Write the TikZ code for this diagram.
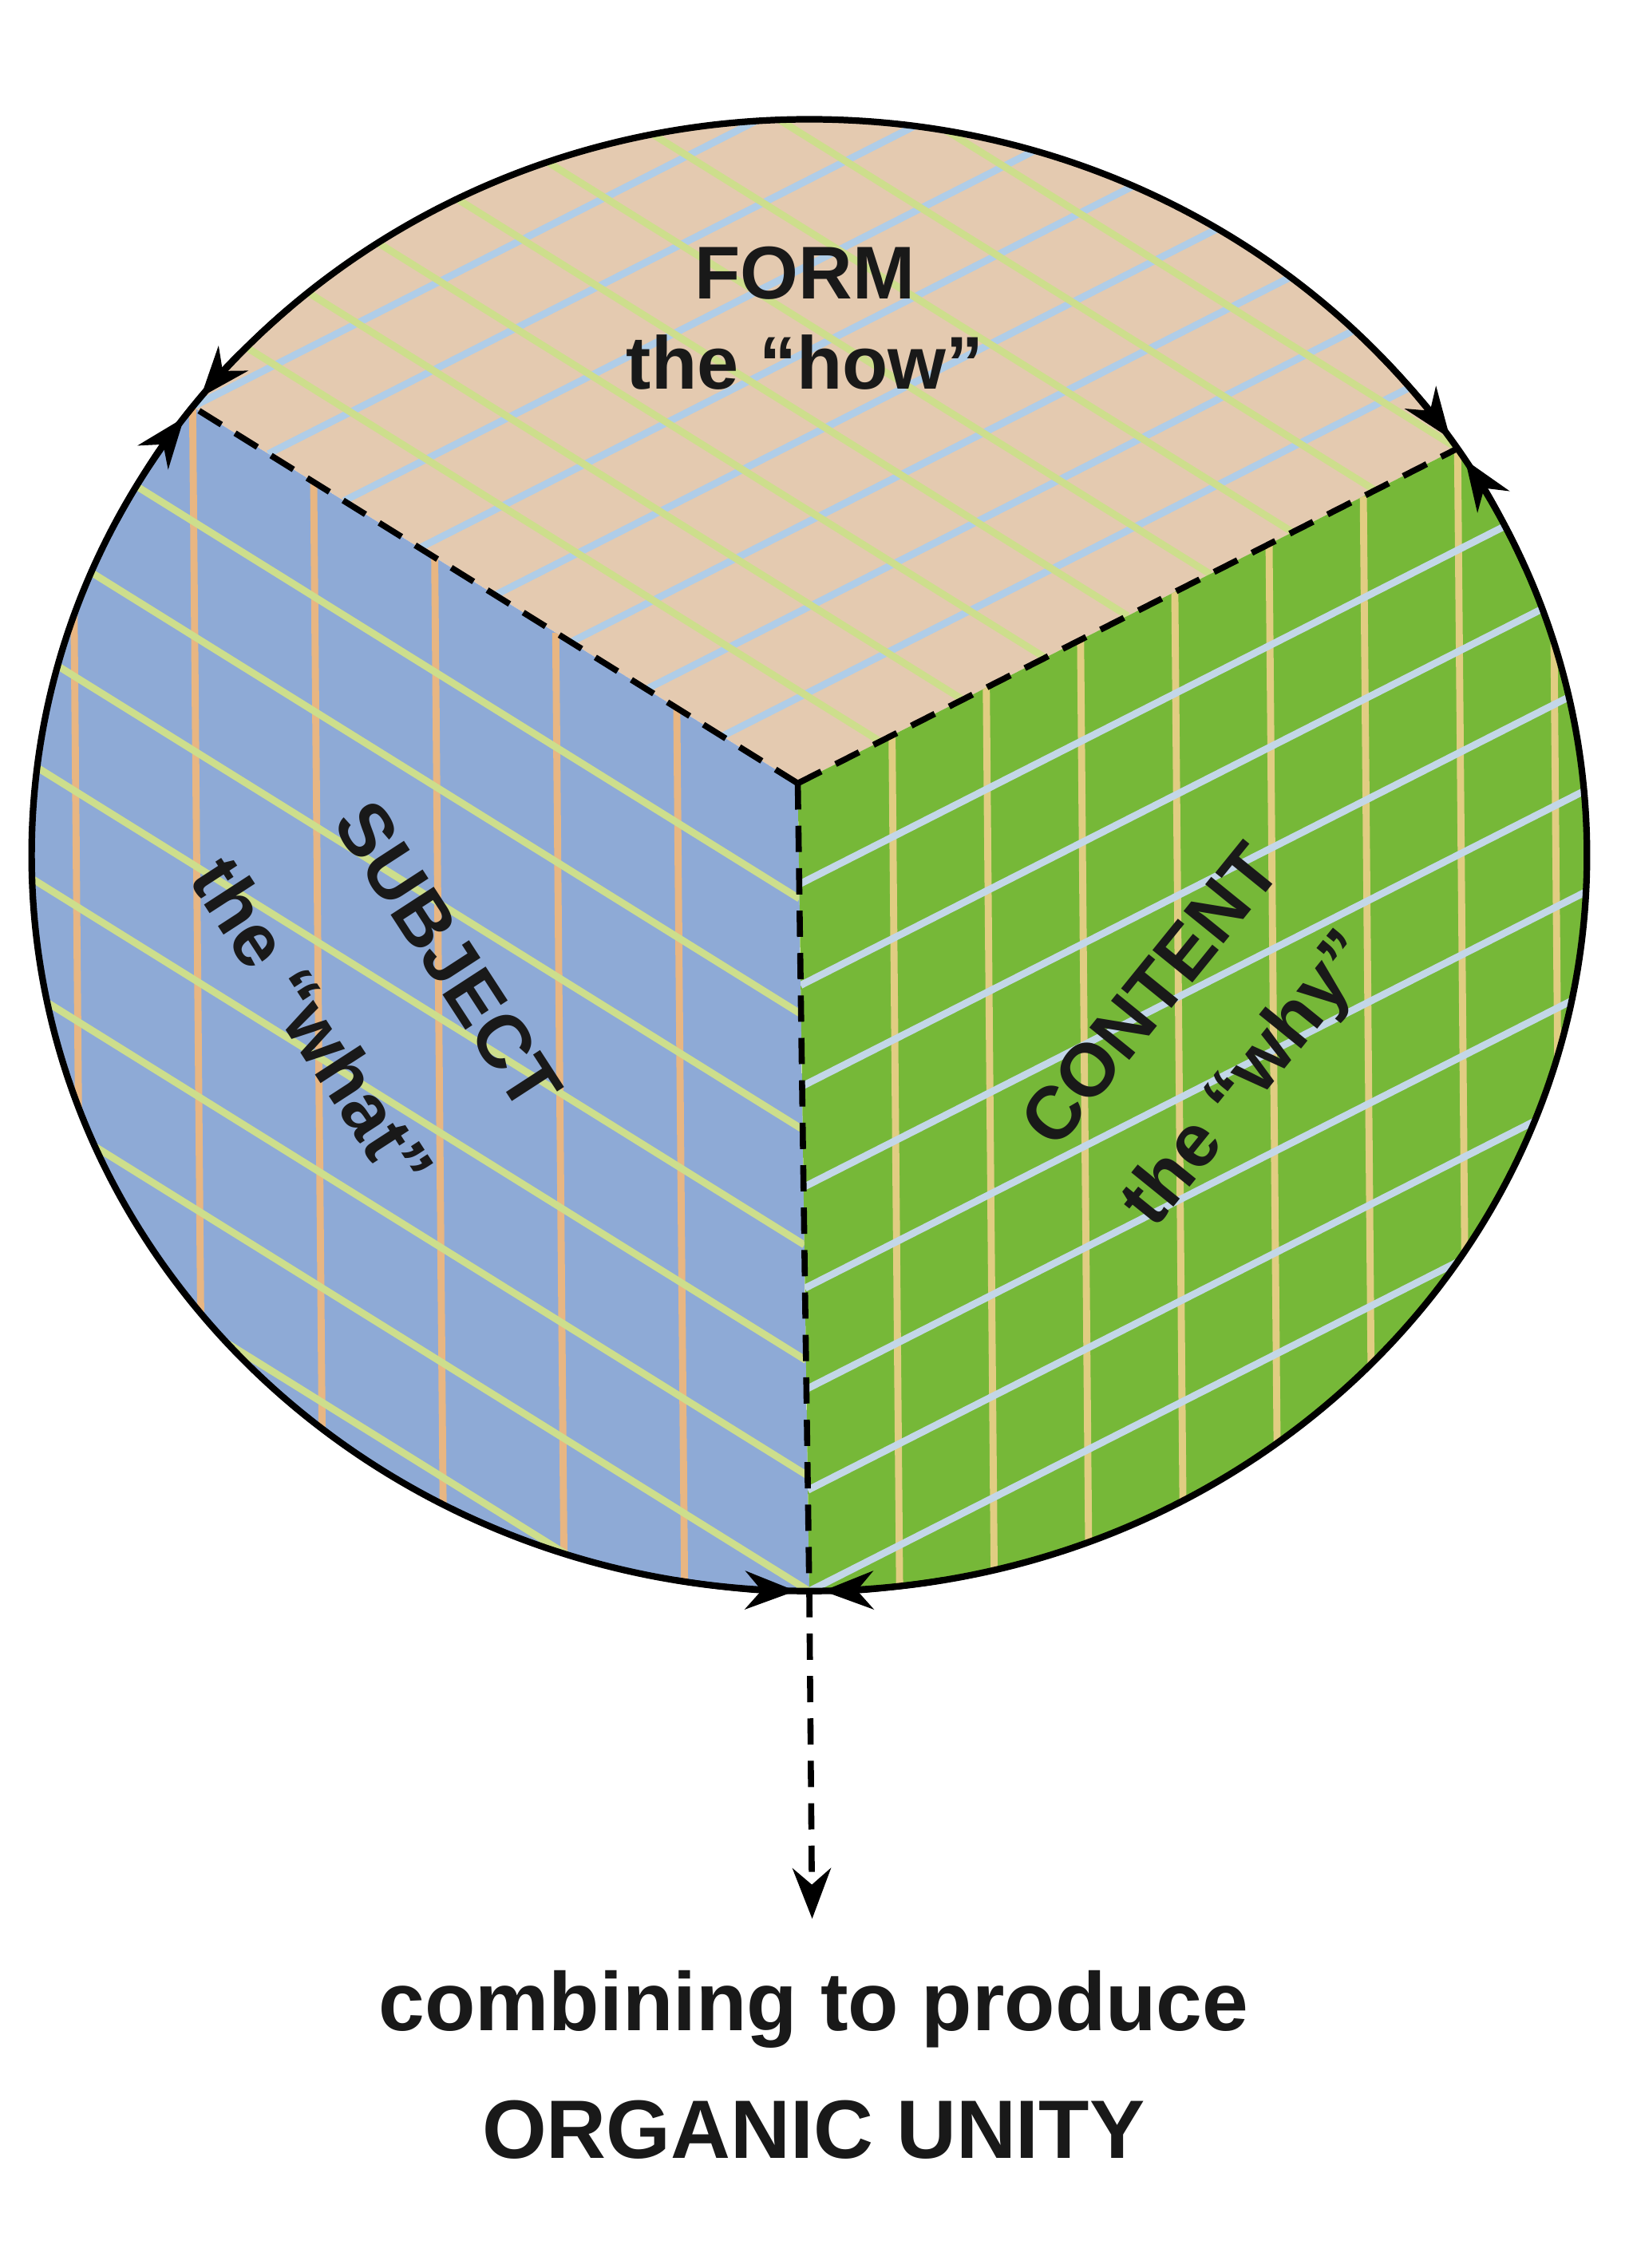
\documentclass[tikz,border=0pt]{standalone}
\usepackage{fontspec}
\setmainfont{Liberation Sans}
\usetikzlibrary{calc,arrows.meta}
\definecolor{topc}{RGB}{228,202,176}
\definecolor{leftc}{RGB}{142,170,214}
\definecolor{rightc}{RGB}{118,184,56}
\definecolor{gblue}{RGB}{175,205,232}
\definecolor{ggreen}{RGB}{205,222,140}
\definecolor{gorange}{RGB}{232,182,130}
\definecolor{gtan}{RGB}{225,205,130}
\definecolor{gwhite}{RGB}{195,215,232}
\tikzset{
 grid/.style={line width=7pt},
 edge/.style={line width=6pt,dash pattern=on 26pt off 16pt},
 arr/.style={line width=6pt,-{Stealth[length=50pt,width=38pt]}},
 lbl/.style={font=\bfseries\fontsize{74}{80}\selectfont,text=black!90,align=center,inner sep=0pt},
}
\begin{document}
\begin{tikzpicture}[x=0.05cm,y=-0.05cm]
\useasboundingbox[fill=white] (0,0) rectangle (1133,1578);
\coordinate (O) at (563,595);
\coordinate (C) at (555,545);
\coordinate (TL) at (134,283);
\coordinate (TR) at (1014,312);
\coordinate (B) at (563,1107);
\begin{scope}
\clip (O) ellipse [x radius=541, y radius=512];
% top face
\begin{scope}
\clip (C)--($(C)!2!(TL)$)--($(TL)+(TR)-(C)$)--($(C)!2!(TR)$)--cycle;
\fill[topc] (C)--($(C)!2!(TL)$)--($(TL)+(TR)-(C)$)--($(C)!2!(TR)$)--cycle;
\foreach \i in {1,...,12} \draw[grid,gblue] ($(C)!\i/8!(TL)$) -- +(690,-350);
\foreach \i in {1,...,12} \draw[grid,ggreen] ($(C)!\i/8!(TR)$) -- +(-632,-393);
\end{scope}
% left face
\begin{scope}
\clip (C)--($(C)!2!(TL)$)--(-200,1400)--(565,1400)--(B)--cycle;
\fill[leftc] (C)--($(C)!2!(TL)$)--(-200,1400)--(565,1400)--(B)--cycle;
\foreach \i in {1,...,8} \draw[grid,gorange] ($(C)!\i/5!(TL)$) -- +(8,900);
\foreach \i in {1,...,11} \draw[grid,ggreen] ($(C)!\i/7!(B)$) -- +(-842,-524);
\end{scope}
% right face
\begin{scope}
\clip (C)--($(C)!2!(TR)$)--(1400,1400)--(561,1400)--(B)--cycle;
\fill[rightc] (C)--($(C)!2!(TR)$)--(1400,1400)--(561,1400)--(B)--cycle;
\foreach \i in {1,...,10} \draw[grid,gtan] ($(C)!\i/7!(TR)$) -- +(8,900);
\foreach \i in {1,...,13} \draw[grid,gwhite] ($(C)!\i/8!(B)$) -- +(918,-466);
\end{scope}
\end{scope}
\draw[edge] (C) -- (TL);
\draw[edge] (C) -- (TR);
\draw[edge] (C) -- (B);
\draw[line width=6.5pt] (O) ellipse [x radius=541, y radius=512];
% arrows
\draw[arr] ([shift={(-153:541 and 512)}]O) arc[start angle=-153,end angle=-143.5,x radius=541,y radius=512];
\draw[arr] ([shift={(-132:541 and 512)}]O) arc[start angle=-132,end angle=-141.5,x radius=541,y radius=512];
\draw[arr] ([shift={(-44:541 and 512)}]O) arc[start angle=-44,end angle=-34.5,x radius=541,y radius=512];
\draw[arr] ([shift={(-23:541 and 512)}]O) arc[start angle=-23,end angle=-32.5,x radius=541,y radius=512];
\draw[arr] ([shift={(80:541 and 512)}]O) arc[start angle=80,end angle=89,x radius=541,y radius=512];
\draw[arr] ([shift={(100:541 and 512)}]O) arc[start angle=100,end angle=91,x radius=541,y radius=512];
\coordinate (E) at (565,1335);
\draw[edge,-{Stealth[length=50pt,width=38pt]}] (B) -- (E);
% labels
\node[lbl] (form) at (560,190) {FORM};
\node[lbl] (how) at (560,252) {the “how”};
\node[lbl,rotate=-57] (subj) at (312,665) {SUBJECT};
\node[lbl,rotate=-57] (what) at (218,712) {the “what”};
\node[lbl,rotate=51] (cont) at (800,692) {CONTENT};
\node[lbl,rotate=51] (why) at (870,752) {the “why”};
\node[lbl,font=\bfseries\fontsize{82}{90}\selectfont] (comb) at (566,1398) {combining to produce};
\node[lbl,font=\bfseries\fontsize{82}{90}\selectfont] (org) at (566,1482) {ORGANIC UNITY};
\end{tikzpicture}
\end{document}
